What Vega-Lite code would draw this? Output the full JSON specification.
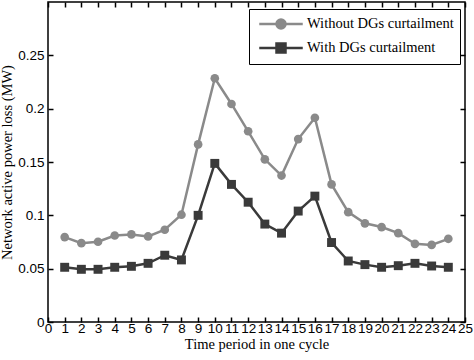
{
  "$schema": "https://vega.github.io/schema/vega-lite/v6.json",
  "width": 417,
  "height": 320,
  "autosize": "none",
  "padding": {"left": 48, "top": 2, "right": 9, "bottom": 38},
  "background": "white",
  "config": {
    "view": {"stroke": "black", "strokeWidth": 1.5},
    "axis": {
      "domain": false,
      "grid": false,
      "tickColor": "black",
      "tickWidth": 1.5,
      "tickSize": -5,
      "labelFont": "Liberation Sans",
      "labelFontSize": 13.5,
      "labelColor": "black",
      "titleFont": "Liberation Serif",
      "titleFontSize": 14.5,
      "titleFontWeight": "normal",
      "titleColor": "black"
    }
  },
  "data": {
    "values": [
      {"t": 1, "s": "Without DGs curtailment", "v": 0.0796},
      {"t": 2, "s": "Without DGs curtailment", "v": 0.0739},
      {"t": 3, "s": "Without DGs curtailment", "v": 0.0752},
      {"t": 4, "s": "Without DGs curtailment", "v": 0.0811},
      {"t": 5, "s": "Without DGs curtailment", "v": 0.0821},
      {"t": 6, "s": "Without DGs curtailment", "v": 0.0802},
      {"t": 7, "s": "Without DGs curtailment", "v": 0.0865},
      {"t": 8, "s": "Without DGs curtailment", "v": 0.1006},
      {"t": 9, "s": "Without DGs curtailment", "v": 0.1665},
      {"t": 10, "s": "Without DGs curtailment", "v": 0.2285},
      {"t": 11, "s": "Without DGs curtailment", "v": 0.2044},
      {"t": 12, "s": "Without DGs curtailment", "v": 0.1788},
      {"t": 13, "s": "Without DGs curtailment", "v": 0.1525},
      {"t": 14, "s": "Without DGs curtailment", "v": 0.1373},
      {"t": 15, "s": "Without DGs curtailment", "v": 0.1715},
      {"t": 16, "s": "Without DGs curtailment", "v": 0.1915},
      {"t": 17, "s": "Without DGs curtailment", "v": 0.129},
      {"t": 18, "s": "Without DGs curtailment", "v": 0.103},
      {"t": 19, "s": "Without DGs curtailment", "v": 0.0925},
      {"t": 20, "s": "Without DGs curtailment", "v": 0.089},
      {"t": 21, "s": "Without DGs curtailment", "v": 0.0833},
      {"t": 22, "s": "Without DGs curtailment", "v": 0.0733},
      {"t": 23, "s": "Without DGs curtailment", "v": 0.0723},
      {"t": 24, "s": "Without DGs curtailment", "v": 0.078},
      {"t": 1, "s": "With DGs curtailment", "v": 0.0513},
      {"t": 2, "s": "With DGs curtailment", "v": 0.0494},
      {"t": 3, "s": "With DGs curtailment", "v": 0.0494},
      {"t": 4, "s": "With DGs curtailment", "v": 0.0513},
      {"t": 5, "s": "With DGs curtailment", "v": 0.0522},
      {"t": 6, "s": "With DGs curtailment", "v": 0.055},
      {"t": 7, "s": "With DGs curtailment", "v": 0.0626},
      {"t": 8, "s": "With DGs curtailment", "v": 0.0582},
      {"t": 9, "s": "With DGs curtailment", "v": 0.1},
      {"t": 10, "s": "With DGs curtailment", "v": 0.1487},
      {"t": 11, "s": "With DGs curtailment", "v": 0.129},
      {"t": 12, "s": "With DGs curtailment", "v": 0.1123},
      {"t": 13, "s": "With DGs curtailment", "v": 0.0918},
      {"t": 14, "s": "With DGs curtailment", "v": 0.0833},
      {"t": 15, "s": "With DGs curtailment", "v": 0.104},
      {"t": 16, "s": "With DGs curtailment", "v": 0.118},
      {"t": 17, "s": "With DGs curtailment", "v": 0.0745},
      {"t": 18, "s": "With DGs curtailment", "v": 0.0572},
      {"t": 19, "s": "With DGs curtailment", "v": 0.0538},
      {"t": 20, "s": "With DGs curtailment", "v": 0.0513},
      {"t": 21, "s": "With DGs curtailment", "v": 0.0528},
      {"t": 22, "s": "With DGs curtailment", "v": 0.055},
      {"t": 23, "s": "With DGs curtailment", "v": 0.0525},
      {"t": 24, "s": "With DGs curtailment", "v": 0.0513}
    ]
  },
  "resolve": {"axis": {"x": "independent", "y": "independent"}},
  "layer": [
    {
      "mark": {"type": "line", "strokeWidth": 2.5},
      "encoding": {
        "x": {
          "field": "t", "type": "quantitative",
          "scale": {"domain": [0, 25], "nice": false},
          "axis": {
            "values": [0,1,2,3,4,5,6,7,8,9,10,11,12,13,14,15,16,17,18,19,20,21,22,23,24,25],
            "labelPadding": 4, "labelFlush": false, "labelOverlap": false,
            "title": "Time period in one cycle", "titlePadding": 3
          }
        },
        "y": {
          "field": "v", "type": "quantitative",
          "scale": {"domain": [0, 0.3], "nice": false},
          "axis": {
            "values": [0, 0.05, 0.1, 0.15, 0.2, 0.25],
            "format": "~g", "labelPadding": 9, "labelFlush": false,
            "title": "Network active power loss (MW)", "titlePadding": 3
          }
        },
        "color": {
          "field": "s", "type": "nominal",
          "scale": {"domain": ["Without DGs curtailment", "With DGs curtailment"], "range": ["#8a8a8a", "#3a3a3a"]},
          "legend": {
            "title": null,
            "orient": "none",
            "legendX": 201,
            "legendY": 7,
            "fillColor": "white",
            "strokeColor": "black",
            "padding": 6,
            "symbolSize": 225,
            "symbolOffset": 17,
            "symbolStrokeWidth": 2.5,
            "labelOffset": 17,
            "labelFont": "Liberation Serif",
            "labelFontSize": 14.5,
            "labelColor": "black",
            "rowPadding": 4,
            "encode": {
              "symbols": {
                "update": {
                  "shape": {"signal": "datum.value === 'With DGs curtailment' ? 'M-2.9,0H2.9M-0.6,-0.6H0.6V0.6H-0.6Z' : 'M-2.9,0H2.9M0.6,0A0.6,0.6,0,1,1,-0.6,0A0.6,0.6,0,1,1,0.6,0Z'"},
                  "stroke": {"signal": "datum.value === 'With DGs curtailment' ? '#3a3a3a' : '#8a8a8a'"},
                  "fill": {"signal": "datum.value === 'With DGs curtailment' ? '#3a3a3a' : '#8a8a8a'"},
                  "strokeWidth": {"value": 2.5},
                  "opacity": {"value": 1}
                }
              }
            }
          }
        }
      }
    },
    {
      "transform": [{"filter": "datum.s === 'Without DGs curtailment'"}],
      "mark": {"type": "point", "shape": "circle", "filled": true, "opacity": 1, "size": 75},
      "encoding": {
        "x": {
          "field": "t", "type": "quantitative",
          "axis": {
            "orient": "top", "labels": false, "title": null,
            "values": [0,1,2,3,4,5,6,7,8,9,10,11,12,13,14,15,16,17,18,19,20,21,22,23,24,25]
          }
        },
        "y": {
          "field": "v", "type": "quantitative",
          "axis": {"orient": "right", "labels": false, "title": null, "values": [0, 0.05, 0.1, 0.15, 0.2, 0.25]}
        },
        "color": {"field": "s", "type": "nominal"}
      }
    },
    {
      "transform": [{"filter": "datum.s === 'With DGs curtailment'"}],
      "mark": {"type": "point", "shape": "square", "filled": true, "opacity": 1, "size": 80},
      "encoding": {
        "x": {"field": "t", "type": "quantitative", "axis": null},
        "y": {"field": "v", "type": "quantitative", "axis": null},
        "color": {"field": "s", "type": "nominal"}
      }
    }
  ]
}
